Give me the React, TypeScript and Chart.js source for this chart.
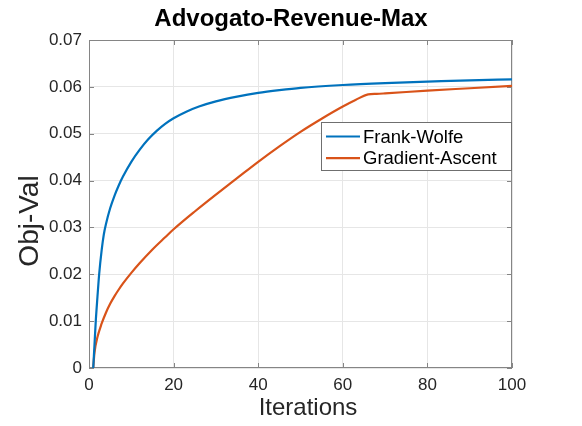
import { useEffect, useRef } from 'react';
import { Chart, registerables, type Plugin } from 'chart.js';

Chart.register(...registerables);

const FONT = '"Liberation Sans", Arial, Helvetica, sans-serif';
const BLUE = '#0072BD';
const ORANGE = '#D95319';
const GRID = '#e6e6e6';
const BOX = '#858585';
const TEXT = '#262626';

const chartTitle = 'Advogato-Revenue-Max';
const xTitle = 'Iterations';
const yTitle = 'Obj-Val';
const seriesNames = ['Frank-Wolfe', 'Gradient-Ascent'];

// Frank-Wolfe objective value per iteration
const fwIters = [
    1, 1.3, 1.6, 2, 2.4, 3, 3.5, 4, 5, 6, 7, 8, 10, 12, 14, 16, 18, 20, 23, 26, 30, 35, 40, 45, 50, 60, 70, 80,
    90, 100,
];
const fwValues = [
    0, 0.005, 0.01, 0.0152, 0.02, 0.0252, 0.0285, 0.0307, 0.0341, 0.0367, 0.0389, 0.0408, 0.044, 0.0466,
    0.0488, 0.0506, 0.0521, 0.0533, 0.0547, 0.0558, 0.0569, 0.0579, 0.0587, 0.0593, 0.0598, 0.0604, 0.0608,
    0.0611, 0.0614, 0.0616,
];

// Gradient-Ascent objective value per iteration
const gaIters = [
    1, 1.3, 2, 3, 4, 5, 6, 7, 8, 10, 12, 15, 18, 20, 25, 30, 35, 40, 45, 50, 55, 60, 63, 66, 68, 70, 80, 90,
    100,
];
const gaValues = [
    0, 0.0033, 0.0066, 0.0095, 0.0118, 0.0137, 0.0153, 0.0167, 0.018, 0.0203, 0.0224, 0.0253, 0.0279, 0.0296,
    0.0334, 0.037, 0.0405, 0.044, 0.0473, 0.0504, 0.0532, 0.0558, 0.0572, 0.0584, 0.0585, 0.0586, 0.0592,
    0.0597, 0.0602,
];

const xTicks = [0, 20, 40, 60, 80, 100];
const yTicks = [0, 0.01, 0.02, 0.03, 0.04, 0.05, 0.06, 0.07];

// MATLAB-style box with inward tick marks
const framePlugin: Plugin = {
    id: 'frame',
    beforeDatasetsDraw(chart) {
        const { ctx, chartArea: a, scales } = chart;
        const len = 5;
        ctx.save();
        ctx.strokeStyle = BOX;
        ctx.lineWidth = 1;
        ctx.beginPath();
        xTicks.forEach((v) => {
            const px = Math.round(scales.x.getPixelForValue(v)) + 0.5;
            ctx.moveTo(px, a.bottom);
            ctx.lineTo(px, a.bottom - len);
            ctx.moveTo(px, a.top);
            ctx.lineTo(px, a.top + len);
        });
        yTicks.forEach((v) => {
            const py = Math.round(scales.y.getPixelForValue(v)) + 0.5;
            ctx.moveTo(a.left, py);
            ctx.lineTo(a.left + len, py);
            ctx.moveTo(a.right, py);
            ctx.lineTo(a.right - len, py);
        });
        ctx.stroke();
        ctx.strokeRect(a.left + 0.5, a.top + 0.5, a.right - a.left - 1, a.bottom - a.top - 1);
        ctx.restore();
    },
};

const axisTitlePlugin: Plugin = {
    id: 'axisTitles',
    afterDraw(chart) {
        const { ctx } = chart;
        ctx.save();
        ctx.fillStyle = TEXT;
        ctx.textAlign = 'center';
        ctx.textBaseline = 'middle';
        ctx.font = `24px ${FONT}`;
        ctx.fillText(xTitle, 308, 408);
        ctx.translate(30, 221);
        ctx.rotate(-Math.PI / 2);
        ctx.font = `28px ${FONT}`;
        ctx.fillText(yTitle, 0, 0);
        ctx.restore();
    },
};

const legendPlugin: Plugin = {
    id: 'insideLegend',
    afterDraw(chart) {
        const { ctx, chartArea: a } = chart;
        const w = 190;
        const h = 48;
        const x0 = a.right - w - 1;
        const y0 = 122;
        ctx.save();
        ctx.fillStyle = '#ffffff';
        ctx.fillRect(x0, y0, w, h);
        ctx.strokeStyle = '#6f6f6f';
        ctx.lineWidth = 1;
        ctx.strokeRect(x0 + 0.5, y0 + 0.5, w, h);
        ctx.font = `18.5px ${FONT}`;
        ctx.textBaseline = 'middle';
        ctx.textAlign = 'left';
        chart.data.datasets.forEach((ds, i) => {
            const cy = y0 + 14.5 + i * 21.6;
            ctx.strokeStyle = ds.borderColor as string;
            ctx.lineWidth = 2.2;
            ctx.beginPath();
            ctx.moveTo(x0 + 5, cy);
            ctx.lineTo(x0 + 39, cy);
            ctx.stroke();
            ctx.fillStyle = '#000000';
            ctx.fillText(ds.label ?? '', x0 + 42, cy + 1);
        });
        ctx.restore();
    },
};

export default function App() {
    const canvasRef = useRef<HTMLCanvasElement>(null);
    const chartRef = useRef<Chart | null>(null);

    useEffect(() => {
        if (!canvasRef.current) return;
        if (chartRef.current) chartRef.current.destroy();

        const tickFont = { family: FONT, size: 17 };

        chartRef.current = new Chart(canvasRef.current, {
            type: 'line',
            data: {
                datasets: [
                    {
                        label: seriesNames[0],
                        data: fwIters.map((x, i) => ({ x, y: fwValues[i] })),
                        borderColor: BLUE,
                        borderWidth: 2.2,
                        pointRadius: 0,
                        cubicInterpolationMode: 'monotone',
                        fill: false,
                    },
                    {
                        label: seriesNames[1],
                        data: gaIters.map((x, i) => ({ x, y: gaValues[i] })),
                        borderColor: ORANGE,
                        borderWidth: 2.2,
                        pointRadius: 0,
                        cubicInterpolationMode: 'monotone',
                        fill: false,
                    },
                ],
            },
            options: {
                animation: false,
                responsive: true,
                maintainAspectRatio: false,
                layout: { padding: 0 },
                plugins: {
                    legend: { display: false },
                    tooltip: { enabled: false },
                    title: {
                        display: true,
                        text: chartTitle,
                        color: '#000000',
                        font: { family: FONT, size: 24, weight: 'bold' },
                        padding: { top: 5, bottom: 6.2 },
                    },
                },
                scales: {
                    x: {
                        type: 'linear',
                        min: 0,
                        max: 100,
                        afterBuildTicks: (s) => {
                            s.ticks = xTicks.map((value) => ({ value }));
                        },
                        afterFit: (s) => {
                            s.height = 58;
                        },
                        ticks: { font: tickFont, color: TEXT, padding: 7, maxRotation: 0, autoSkip: false },
                        grid: { color: GRID, drawTicks: false },
                        border: { display: false },
                    },
                    y: {
                        type: 'linear',
                        min: 0,
                        max: 0.07,
                        afterBuildTicks: (s) => {
                            s.ticks = yTicks.map((value) => ({ value }));
                        },
                        afterFit: (s) => {
                            s.width = 89;
                        },
                        ticks: {
                            font: tickFont,
                            color: TEXT,
                            padding: 7,
                            callback: (v) => (Number(v) === 0 ? '0' : Number(v).toFixed(2)),
                        },
                        grid: { color: GRID, drawTicks: false },
                        border: { display: false },
                    },
                    y2: {
                        type: 'linear',
                        position: 'right',
                        min: 0,
                        max: 0.07,
                        afterFit: (s) => {
                            s.width = 70;
                        },
                        ticks: { display: false },
                        grid: { display: false },
                        border: { display: false },
                    },
                },
            },
            plugins: [framePlugin, axisTitlePlugin, legendPlugin],
        });

        return () => {
            chartRef.current?.destroy();
            chartRef.current = null;
        };
    }, []);

    return (
        <div style={{ position: 'fixed', left: 0, top: 0, width: 582, height: 426, background: '#ffffff' }}>
            <canvas ref={canvasRef} />
        </div>
    );
}
